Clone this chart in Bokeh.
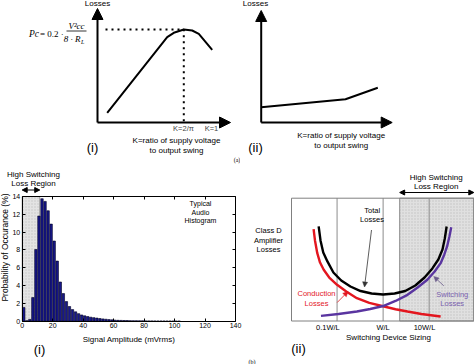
import math
from bokeh.plotting import figure
from bokeh.models import Range1d, Label, Arrow, NormalHead, LinearAxis, FixedTicker
from bokeh.layouts import row, column
from bokeh.embed import file_html
from bokeh.resources import INLINE

# ---------------- data ----------------
# (a)(i) losses vs K (schematic units, origin at the axes corner)
ai_k = [0.97, 6.97, 7.63, 8.63, 9.47, 10.13, 11.47]
ai_loss = [0.97, 8.53, 8.97, 9.30, 9.20, 8.87, 7.27]
ai_ref_k = [0.8, 8.63, 8.63]
ai_ref_loss = [9.30, 9.30, 0.0]
ai_tick_pos = [8.6, 11.4]
ai_tick_lab = ["K=2/\u03c0", "K=1"]
ai_axis_end = [13.3, 11.4]

# (a)(ii)
aii_k = [0.0, 8.43, 11.66]
aii_loss = [1.53, 2.33, 3.47]
aii_axis_end = [13.1, 11.2]

# (b)(i) typical audio histogram
hist_center = list(range(1, 105, 2))
hist_prob = [1.55, 0.05, 0.2, 2.65, 8.05, 11.8, 13.75, 13.45, 12.4, 10.9,
             9.0, 6.75, 4.4, 3.1, 2.2, 1.65, 1.3, 1.05, 0.85, 0.7,
             0.6, 0.52, 0.45, 0.4, 0.35, 0.3, 0.26, 0.22, 0.18, 0.15,
             0.12, 0.1, 0.09, 0.08, 0.07, 0.06, 0.05, 0.05, 0.04, 0.04,
             0.035, 0.03, 0.03, 0.025, 0.02, 0.02, 0.02, 0.015, 0.015, 0.01,
             0.01, 0.01]
hist_x_ticks = [0, 20, 40, 60, 80, 100, 120, 140]
hist_y_ticks = [0, 2, 4, 6, 8, 10, 12, 14]
hist_region = [0.0, 11.5]

# (b)(ii) losses vs device size (log10 of size relative to W/L)
size_lim = [-1.99, 1.97]
loss_lim = [0.0, 10.0]
size_grid = [-1, 0, 1]
size_tick_pos = [-1.2, 0.0, 0.9]
size_tick_lab = ["0.1W/L", "W/L", "10W/L"]
hsw_start = 0.36
total_x = [-1.40, -1.36, -1.30, -1.21, -1.08, -0.91, -0.71, -0.49, -0.25, 0.0,
           0.25, 0.48, 0.70, 0.90, 1.07, 1.20, 1.29, 1.34, 1.38]
total_y = [7.70, 6.56, 5.58, 4.85, 3.95, 3.30, 2.81, 2.44, 2.24, 2.16,
           2.24, 2.44, 2.89, 3.54, 4.28, 5.01, 5.82, 6.72, 7.70]
cond_x = [-1.51, -1.48, -1.43, -1.37, -1.29, -1.17, -1.00, -0.80, -0.57, -0.30,
          0.0, 0.27, 0.53, 0.83, 1.25]
cond_y = [7.48, 6.56, 5.52, 4.76, 4.17, 3.54, 2.95, 2.40, 1.86, 1.47,
          1.20, 0.96, 0.77, 0.57, 0.37]
sw_x = [-1.35, -0.97, -0.57, -0.28, 0.0, 0.27, 0.53, 0.75, 0.96, 1.12,
        1.25, 1.33, 1.39, 1.44, 1.48]
sw_y = [0.42, 0.57, 0.77, 0.98, 1.22, 1.63, 2.13, 2.73, 3.36, 4.03,
        4.71, 5.42, 6.07, 6.88, 7.64]

FONT = "Liberation Sans"
SERIF = "Liberation Serif"
RED = "#e3161f"
PURPLE = "#5a35a0"


class Panel:
    """Full-frame figure; box (L,T,R,B in page px) shows data (x0,x1,y0,y1)."""

    def __init__(self, X0, Y0, W, H, box, dbox):
        self.L, self.T, self.R, self.B = box
        self.x0, self.x1, self.y0, self.y1 = dbox
        xr = (self.dx(X0), self.dx(X0 + W))
        yr = (self.dy(Y0 + H), self.dy(Y0))
        self.p = figure(width=W, height=H, output_backend="svg", toolbar_location=None,
                        tools="", title=None, x_range=Range1d(*xr), y_range=Range1d(*yr),
                        x_axis_type=None, y_axis_type=None, min_border=0)
        self.p.grid.visible = False
        self.p.outline_line_color = None

    def dx(self, X):
        return self.x0 + (X - self.L) / (self.R - self.L) * (self.x1 - self.x0)

    def dy(self, Y):
        return self.y0 + (self.B - Y) / (self.B - self.T) * (self.y1 - self.y0)

    def txt(self, X, Y, s, size=8.0, color="black", font=FONT, style="normal",
            align="center", angle=0.0):
        self.p.add_layout(Label(x=self.dx(X), y=self.dy(Y), text=s, text_font=font,
                                text_font_size=f"{size:.2f}px", text_color=color,
                                text_font_style=style, text_align=align,
                                text_baseline="middle", angle=angle))

    def arrow(self, X0, Y0, X1, Y1, color="black", width=1.0, size=5, both=False):
        head = lambda: NormalHead(size=size, fill_color=color, line_color=color, line_width=0.5)
        self.p.add_layout(Arrow(x_start=self.dx(X0), y_start=self.dy(Y0),
                                x_end=self.dx(X1), y_end=self.dy(Y1),
                                line_color=color, line_width=width,
                                start=head() if both else None, end=head()))


def axes_arrows(p, ends):
    p.add_layout(Arrow(x_start=0, y_start=0, x_end=0, y_end=ends[1], line_width=2,
                       end=NormalHead(size=11, fill_color="black", line_color="black")))
    p.add_layout(Arrow(x_start=0, y_start=0, x_end=ends[0], y_end=0, line_width=2,
                       end=NormalHead(size=11, fill_color="black", line_color="black")))


# ---------------- (a)(i) ----------------
A1 = Panel(0, 0, 240, 166, (97, 112, 107, 122), (0, 1, 0, 1))
p = A1.p
p.line(ai_ref_k, ai_ref_loss, line_color="black", line_width=2, line_dash="2 4")
p.line(ai_k, ai_loss, line_color="black", line_width=2)
axes_arrows(p, ai_axis_end)
for pos, lab in zip(ai_tick_pos, ai_tick_lab):
    p.add_layout(Label(x=pos, y=A1.dy(128), text=lab, text_font=FONT,
                       text_font_size="7.5px", text_align="center", text_baseline="middle"))
A1.txt(97, 3, "Losses", 8)
A1.txt(176, 140, "K=ratio of supply voltage", 8)
A1.txt(176, 149.5, "to output swing", 8)
A1.txt(92, 146.5, "(i)", 13)
A1.txt(236.5, 159, "(a)", 6, font=SERIF)
A1.txt(28.5, 33.5, "Pc", 9.5, font=SERIF, style="italic", align="left")
A1.txt(39.5, 33.5, "= 0.2 \u00b7", 9.0, font=SERIF, align="left")
A1.txt(76, 25.5, "V\u00b2cc", 9.0, font=SERIF, style="italic")
p.line([A1.dx(66), A1.dx(86)], [A1.dy(30.5), A1.dy(30.5)], line_color="black", line_width=0.8)
A1.txt(80, 38.5, "8 \u00b7 R", 9.0, font=SERIF, style="italic", align="right")
A1.txt(80.5, 41, "L", 6.0, font=SERIF, style="italic", align="left")

# ---------------- (a)(ii) ----------------
A2 = Panel(240, 0, 234, 166, (260.7, 112, 270.7, 122), (0, 1, 0, 1))
p = A2.p
p.line(aii_k, aii_loss, line_color="black", line_width=2)
axes_arrows(p, aii_axis_end)
A2.txt(255, 3, "Losses", 8)
A2.txt(340.7, 135, "K=ratio of supply voltage", 8)
A2.txt(340.7, 145, "to output swing", 8)
A2.txt(255, 147, "(ii)", 13)

# ---------------- (b)(i) histogram ----------------
B1 = Panel(0, 166, 245, 198, (21.7, 196.0, 235.0, 320.7),
           (hist_x_ticks[0], hist_x_ticks[-1], hist_y_ticks[0], hist_y_ticks[-1]))
p = B1.p
xb = (hist_x_ticks[0], hist_x_ticks[-1])
yb = (hist_y_ticks[0], hist_y_ticks[-1])
p.quad(left=hist_region[0], right=hist_region[1], bottom=yb[0], top=yb[1],
       fill_color="#e3e3e3", line_color="#9a9a9a", line_width=1,
       hatch_pattern="dot", hatch_color="#c4c4c4", hatch_scale=3)
p.vbar(x=hist_center, top=hist_prob, width=1.6, fill_color="#17178a",
       line_color="#000022", line_width=0.6)


def hist_axis(side, loc, bounds, ticks, labels):
    ax = LinearAxis(fixed_location=loc, bounds=bounds, ticker=FixedTicker(ticks=ticks),
                    major_tick_in=3, major_tick_out=0, minor_tick_line_color=None,
                    axis_line_color="black", major_tick_line_color="black",
                    major_label_text_font=FONT, major_label_text_font_size="7px",
                    major_label_text_color="black" if labels else None,
                    major_label_standoff=2)
    p.add_layout(ax, side)
    return ax


bax = hist_axis("below", yb[0], xb, hist_x_ticks, True)
hist_axis("left", xb[0], yb, hist_y_ticks, True)
hist_axis("right", xb[1], yb, hist_y_ticks, False)
hist_axis("above", yb[1], xb, hist_x_ticks, False)
bax.axis_label = "Signal Amplitude (mVrms)"
bax.axis_label_text_font = FONT
bax.axis_label_text_font_style = "normal"
bax.axis_label_text_font_size = "8px"
bax.axis_label_text_color = "black"
bax.axis_label_standoff = 3
B1.txt(4.5, 247, "Probability of Occurance (%)", 8.5, angle=math.pi / 2)
B1.txt(33, 173.5, "High Switching", 8)
B1.txt(33, 183, "Loss Region", 8)
p.add_layout(Arrow(x_start=hist_region[0], y_start=B1.dy(189.5), x_end=hist_region[1],
                   y_end=B1.dy(189.5), line_width=1,
                   start=NormalHead(size=5, fill_color="black", line_color="black"),
                   end=NormalHead(size=5, fill_color="black", line_color="black")))
B1.txt(200, 202.7, "Typical", 7)
B1.txt(200, 211.5, "Audio", 7)
B1.txt(200, 220.3, "Histogram", 7)
B1.txt(39, 349, "(i)", 13)

# ---------------- (b)(ii) ----------------
B2 = Panel(245, 166, 229, 198, (291.0, 197.7, 473.3, 320.5),
           (size_lim[0], size_lim[1], loss_lim[0], loss_lim[1]))
p = B2.p
p.quad(left=hsw_start, right=size_lim[1], bottom=loss_lim[0], top=loss_lim[1],
       fill_color="#e0e0e0", line_color="#8c8c8c", line_width=1,
       hatch_pattern="dot", hatch_color="#c2c2c2", hatch_scale=3)
p.segment(x0=size_grid, y0=[loss_lim[0]] * 3, x1=size_grid, y1=[loss_lim[1]] * 3,
          line_color="#8c8c8c", line_width=1)
p.quad(left=size_lim[0], right=size_lim[1], bottom=loss_lim[0], top=loss_lim[1],
       fill_color=None, line_color="#808080", line_width=1)
p.line(cond_x, cond_y, line_color=RED, line_width=2.4)
p.line(sw_x, sw_y, line_color=PURPLE, line_width=2.4)
p.line(total_x, total_y, line_color="black", line_width=2.4)
xa = LinearAxis(fixed_location=loss_lim[0], bounds=tuple(size_lim),
                ticker=FixedTicker(ticks=size_tick_pos),
                major_label_overrides={t: s for t, s in zip(size_tick_pos, size_tick_lab)},
                axis_line_color=None, major_tick_line_color=None, minor_tick_line_color=None,
                major_tick_in=0, major_tick_out=0,
                major_label_text_font=FONT, major_label_text_font_size="7.5px",
                major_label_text_color="black", major_label_standoff=2)
p.add_layout(xa, "below")
B2.txt(388, 336.7, "Switching Device Sizing", 8)
B2.txt(298, 348, "(ii)", 13)
B2.txt(251.5, 361, "(b)", 6, font=SERIF)
B2.txt(268, 230, "Class D", 7.5)
B2.txt(268, 239.5, "Amplifier", 7.5)
B2.txt(268, 249.3, "Losses", 7.5)
B2.txt(435.7, 176.5, "High Switching", 8)
B2.txt(435.7, 186, "Loss Region", 8)
p.add_layout(Arrow(x_start=hsw_start, y_start=B2.dy(192), x_end=size_lim[1], y_end=B2.dy(192),
                   line_width=1,
                   start=NormalHead(size=5, fill_color="black", line_color="black"),
                   end=NormalHead(size=5, fill_color="black", line_color="black")))
B2.txt(371.7, 210, "Total", 7.5)
B2.txt(371.5, 219.3, "Losses", 7.5)
B2.arrow(371, 229.5, 364, 286.5, color="#333333", width=0.8, size=5)
B2.txt(316, 293.3, "Conduction", 7.5, color=RED)
B2.txt(316, 302.7, "Losses", 7.5, color=RED)
B2.arrow(336.7, 302, 347.5, 291, color=RED, width=0.8, size=5)
B2.txt(451.7, 293.7, "Switching", 7.5, color="#7a5fae")
B2.txt(451.7, 302.7, "Losses", 7.5, color="#7a5fae")
B2.arrow(443.3, 285.3, 433.3, 276, color="#6a5a8a", width=0.8, size=5)

layout = column(row(A1.p, A2.p), row(B1.p, B2.p))
open("out.html", "w").write(file_html(layout, INLINE))
